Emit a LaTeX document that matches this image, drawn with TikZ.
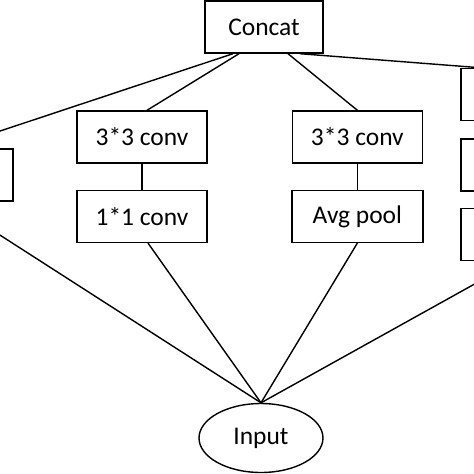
\documentclass[tikz,border=0pt]{standalone}
\usepackage{fontspec}
\setmainfont{Carlito}
\usetikzlibrary{positioning,shapes.geometric}

\tikzset{
    layer/.style={draw, line width=0.8pt, minimum width=2.6cm, minimum height=1.04cm, inner sep=0pt,
        font=\fontsize{14.5}{17}\selectfont},
    inp/.style={draw, ellipse, line width=0.8pt, minimum width=2.48cm, minimum height=1.38cm, inner sep=0pt,
        font=\fontsize{14.5}{17}\selectfont},
    link/.style={line width=0.8pt}
}

\begin{document}
\begin{tikzpicture}[x=0.02cm, y=-0.02cm]

    \useasboundingbox (0,0) rectangle (474,474);
    \clip (0,0) rectangle (474,474);

    %% Top of the block
    \node[layer, minimum width=2.36cm] (concat) at (264,27) {Concat};

    %% Middle branches
    \node[layer] (conv33a) at (142,137) {3*3 conv};
    \node[layer, below=0.52cm of conv33a] (conv11) {1*1 conv};
    \node[layer, right=1.68cm of conv33a] (conv33b) {3*3 conv};
    \node[layer, below=0.52cm of conv33b, minimum width=2.62cm] (pool) {Avg pool};

    % Outer branches (cut by the frame)
    \node[layer] (left) at (-52,175) {};
    \node[layer] (right1) at (526,94.5) {};
    \node[layer, below=0.34cm of right1] (right2) {};
    \node[layer, below=0.32cm of right2] (right3) {};

    %% Input
    \node[inp] (input) at (261,438) {Input};

    % Branches into Concat
    \draw[link] ([xshift=-0.62cm]concat.south) -- (left.north);
    \draw[link] ([xshift=-0.5cm]concat.south) -- ([xshift=0.1cm]conv33a.north);
    \draw[link] ([xshift=0.48cm]concat.south) -- (conv33b.north);
    \draw[link] ([xshift=0.72cm]concat.south) -- ([xshift=-0.9cm]right1.north);

    % Inside the branches
    \draw[link] (conv33a.south) -- (conv11.north);
    \draw[link] (conv33b.south) -- (pool.north);

    % Input into the branches
    \draw[link] (input.north) -- (left.south);
    \draw[link] (input.north) -- ([xshift=0.12cm]conv11.south);
    \draw[link] (input.north) -- (pool.south);
    \draw[link] (input.north) -- ([xshift=-0.2cm]right3.south);

\end{tikzpicture}
\end{document}
